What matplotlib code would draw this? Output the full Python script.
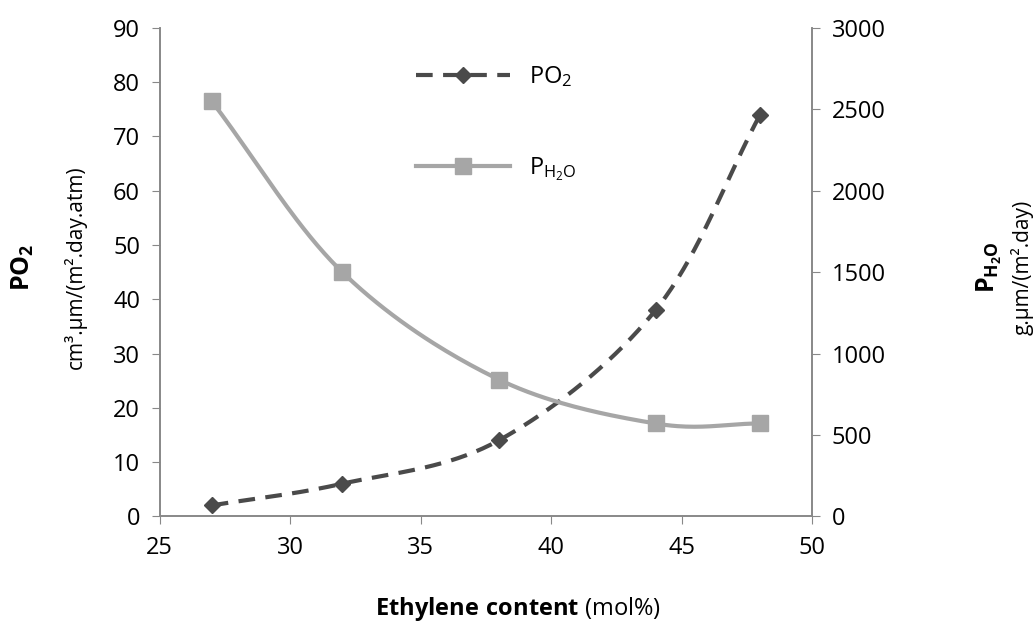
import matplotlib
matplotlib.use("Agg")
import matplotlib.pyplot as plt
import numpy as np

ethylene = [27, 32, 38, 44, 48]
po2 = [2, 6, 14, 38, 74]
ph2o = [2550, 1500, 840, 570, 570]

def smooth(x, y, n=40):
    x = np.asarray(x, float); y = np.asarray(y, float)
    P = np.column_stack([x, y])
    P = np.vstack([2*P[0]-P[1], P, 2*P[-1]-P[-2]])
    out = []
    for i in range(1, len(P)-2):
        p0, p1, p2, p3 = P[i-1], P[i], P[i+1], P[i+2]
        t = np.linspace(0, 1, n)[:, None]
        seg = 0.5*((2*p1) + (-p0+p2)*t + (2*p0-5*p1+4*p2-p3)*t**2 + (-p0+3*p1-3*p2+p3)*t**3)
        out.append(seg)
    s = np.vstack(out)
    return s[:, 0], s[:, 1]

plt.rcParams['font.family'] = ['Open Sans', 'DejaVu Sans']
plt.rcParams['mathtext.fontset'] = 'custom'
plt.rcParams['mathtext.rm'] = 'Open Sans'
plt.rcParams['mathtext.bf'] = 'Open Sans:bold'
fig = plt.figure(figsize=(10.36, 6.22), dpi=100)
ax = fig.add_axes([0.154, 0.170, 0.630, 0.785])
ax2 = ax.twinx()

dark = '#4a4a4a'; light = '#a6a6a6'
sx, sy = smooth(ethylene, po2)
ax.plot(sx, sy, '--', color=dark, lw=3, dashes=(4, 2.5))
ax.plot(ethylene, po2, 'D', color=dark, ms=8, ls='none')
sx2, sy2 = smooth(ethylene, ph2o)
ax2.plot(sx2, sy2, '-', color=light, lw=3)
ax2.plot(ethylene, ph2o, 's', color=light, ms=11, ls='none')

ax.set_xlim(25, 50); ax.set_ylim(0, 90)
ax2.set_ylim(0, 3000)
ax.set_xticks(range(25, 51, 5)); ax.set_yticks(range(0, 91, 10))
ax2.set_yticks(range(0, 3001, 500))
for a in (ax, ax2):
    a.spines['top'].set_visible(False)
    for s in a.spines.values():
        s.set_color('#888888'); s.set_linewidth(1.2)
    a.tick_params(direction='out', labelsize=17, color='#888888', length=6, pad=8)

from matplotlib.lines import Line2D
h1 = Line2D([], [], color=dark, ls='--', lw=3, dashes=(4, 2.5), marker='D', ms=8)
h2 = Line2D([], [], color=light, lw=3, marker='s', ms=11)
ax.legend([h1, h2], ['P$\\mathregular{O_2}$', 'P$\\mathregular{_{H_2O}}$'],
          loc='upper left', bbox_to_anchor=(0.36, 0.97), frameon=False,
          fontsize=17, handlelength=4, labelspacing=2.8)

fig.text(0.5, 0.012, r'$\mathbf{Ethylene\ content}$ (mol%)', ha='center', fontsize=17)
fig.text(0.022, 0.57, r'$\mathbf{PO_2}$', rotation=90, va='center', ha='center', fontsize=18)
fig.text(0.073, 0.57, 'cm³.µm/(m².day.atm)', rotation=90, va='center', ha='center', fontsize=15)
fig.text(0.955, 0.57, r'$\mathbf{P_{H_2O}}$', rotation=90, va='center', ha='center', fontsize=18)
fig.text(0.987, 0.57, 'g.µm/(m².day)', rotation=90, va='center', ha='center', fontsize=15)

fig.savefig('out.png', dpi=100)
